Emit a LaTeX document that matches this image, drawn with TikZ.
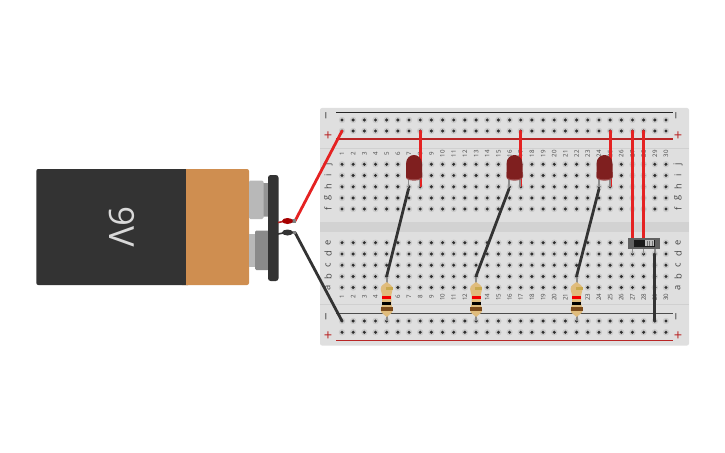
\documentclass[tikz,border=0pt]{standalone}
\usepackage{fontspec}
\setmainfont{Open Sans}
\definecolor{boardc}{HTML}{DFDFDF}
\definecolor{gutterc}{HTML}{D2D2D2}
\definecolor{seamc}{HTML}{D0D0D0}
\definecolor{halo}{HTML}{CBCBCB}
\definecolor{holec}{HTML}{303030}
\definecolor{batdark}{HTML}{333333}
\definecolor{copper}{HTML}{CF8E50}
\definecolor{wred}{HTML}{E52222}
\definecolor{wblack}{HTML}{333333}
\definecolor{railred}{HTML}{B92525}
\definecolor{labelc}{HTML}{454545}
\definecolor{ledc}{HTML}{7F1F1F}
\definecolor{ledrim}{HTML}{A05050}
\definecolor{legc}{HTML}{8C8C8C}
\definecolor{resbody}{HTML}{E0BC7C}
\definecolor{goldband}{HTML}{C9A94E}
\definecolor{brownband}{HTML}{7A4A1C}
\tikzset{
  x=0.75pt,y=-0.75pt,
  wire/.style={line width=2.1pt,line cap=round},
  redwire/.style={wire,draw=wred},
  blackwire/.style={wire,draw=wblack},
  leg/.style={line width=1.2pt,draw=legc},
  numlabel/.style={inner sep=0pt,rotate=90,text=labelc,font=\fontsize{4.6}{5}\selectfont},
  letlabel/.style={inner sep=0pt,rotate=90,text=labelc,font=\fontsize{7}{7}\selectfont},
  minuslabel/.style={inner sep=0pt,text=labelc,font=\fontsize{10}{10}\selectfont},
  pluslabel/.style={inner sep=0pt,text=railred,font=\fontsize{11}{11}\selectfont},
}
\newcommand{\holerow}[1]{%
  \foreach \c in {0,...,29}{%
    \fill[halo] ({342+\c*11.172},#1) circle[radius=3.2];
    \fill[holec] ({342+\c*11.172},#1) circle[radius=1.7];
  }}
\newcommand{\resistor}[1]{%
  \draw[line width=1.5pt,draw=legc] (#1,276.5) -- (#1,321);
  \fill[resbody] (#1,282) .. controls ({#1+2},284.5) and ({#1+6},284.5) .. ({#1+6},289)
    .. controls ({#1+6},292) and ({#1+4.6},292) .. ({#1+4.6},295) -- ({#1+4.6},304)
    .. controls ({#1+4.6},307) and ({#1+6},307) .. ({#1+6},310)
    .. controls ({#1+6},314) and ({#1+2},314) .. (#1,317)
    .. controls ({#1-2},314) and ({#1-6},314) .. ({#1-6},310)
    .. controls ({#1-6},307) and ({#1-4.6},307) .. ({#1-4.6},304) -- ({#1-4.6},295)
    .. controls ({#1-4.6},292) and ({#1-6},292) .. ({#1-6},289)
    .. controls ({#1-6},284.5) and ({#1-2},284.5) .. (#1,282) -- cycle;
  \fill[goldband] ({#1-1},287) rectangle ({#1+6},289.5);
  \fill[red!95!black] ({#1-4.6},295.5) rectangle ({#1+4.6},298.5);
  \fill[black] ({#1-4.6},301.5) rectangle ({#1+4.6},304.5);
  \fill[brownband] ({#1-6},307) rectangle ({#1+6},310.5);
}
\newcommand{\ledbody}[1]{% #1 = centre x
  \draw[leg] ({#1-5.5},178) -- ({#1-5.5},186.8);
  \draw[leg] ({#1+5.5},178) -- ({#1+5.5},186.8);
  \fill[ledrim] ({#1-8},172) -- ({#1-8},178) .. controls ({#1-6},181.5) and ({#1+6},181.5) .. ({#1+8},178) -- ({#1+8},172) -- cycle;
  \fill[ledc] ({#1-8},177) -- ({#1-8},164) .. controls ({#1-8},152) and ({#1+8},152) .. ({#1+8},164) -- ({#1+8},177)
     .. controls ({#1+6},180) and ({#1-6},180) .. ({#1-8},177) -- cycle;
}
\begin{document}
\begin{tikzpicture}
\useasboundingbox (0,0) rectangle (725,453);
% board
\fill[boardc,rounded corners=1.5pt] (320,108) rectangle (689,345.5);
\fill[gutterc] (320,222) rectangle (689,232);
\draw[seamc,line width=0.4pt] (320,148) -- (689,148) (320,304) -- (689,304);
% rails
\draw[black!85,line width=0.9pt] (336,112.5) -- (672.5,112.5);
\draw[railred,line width=0.9pt] (336,139) -- (672.5,139);
\draw[black!70,line width=0.9pt] (336,313.5) -- (672.5,313.5);
\draw[railred,line width=0.9pt] (336,340.5) -- (672.5,340.5);
% holes
\foreach \y in {120,131,164.3,175.5,186.8,198,209,242.7,254,265.2,276.5,287.5,321,332.3}{\holerow{\y}}
% labels
\foreach \n in {1,...,30}{
  \node[numlabel] (nt\n) at ({342+(\n-1)*11.172},154) {\n};
}
\foreach \n in {1,2,3,4,6,7,8,9,10,11,12,14,15,16,17,18,19,20,21,23,24,25,26,27,28,29,30}{
  \node[numlabel] (nb\n) at ({342+(\n-1)*11.172},297) {\n};
}
\foreach \l/\y in {j/164.3,i/175.5,h/186.8,g/198,f/209,e/242.7,d/254,c/265.2,b/276.5,a/287.5}{
  \node[letlabel] (ll\l) at (328,\y) {\l};
  \node[letlabel] (lr\l) at (678,\y) {\l};
}
\node[minuslabel,rotate=90] (m1) at (328,116) {−};
\node[minuslabel,rotate=90] (m2) at (678,116) {−};
\node[minuslabel,rotate=90] (m3) at (328,316.5) {−};
\node[minuslabel,rotate=90] (m4) at (678,316.5) {−};
\node[pluslabel] (p1) at (328,136) {+};
\node[pluslabel] (p2) at (678,136) {+};
\node[pluslabel] (p3) at (328,336) {+};
\node[pluslabel] (p4) at (678,336) {+};
% battery
\fill[copper,rounded corners=1.5pt] (180,169) rectangle (249,285);
\fill[batdark,rounded corners=1.5pt] (36.3,169) rectangle (190,285);
\fill[copper] (185.7,169) rectangle (195,285);
\node[rotate=-90,inner sep=0pt,text=black!15,font=\fontsize{26}{26}\selectfont] (volt) at (122,227) {9V};
\fill[black!42,rounded corners=0.5pt] (262,183) rectangle (269,216.5);
\fill[black!28,rounded corners=1pt] (249,180.5) rectangle (263.5,219);
\fill[black!28] (249,233.5) rectangle (256,267);
\fill[black!46,rounded corners=1pt] (255,230.5) rectangle (269,270);
\fill[batdark,rounded corners=2pt] (268,175) rectangle (278.5,281);
% battery leads
\coordinate (redlead) at (295,221);
\coordinate (blacklead) at (295,232.5);
\coordinate (railA) at (342,131);
\coordinate (railB) at (342,321);
% battery wires
\draw[redwire] (redlead) -- (railA);
\draw[blackwire] (blacklead) -- (railB);
\draw[railred,line width=1.2pt] (278,222.5) -- (286,221);
\draw[wblack,line width=1.2pt] (278,234) -- (286,232.5);
\fill[black!50] (290,219.3) rectangle (295.5,222.7);
\fill[black!50] (290,230.8) rectangle (295.5,234.2);
\fill[red!65!black] (287.5,221) ellipse[x radius=5.5,y radius=3];
\fill[wblack] (287.5,232.5) ellipse[x radius=5.5,y radius=3];
% resistors
\resistor{386.7}
\resistor{476.1}
\resistor{576.6}
% LEDs wires
\draw[redwire] (420.7,131) -- (420.7,186);
\draw[redwire] (520.7,131) -- (520.7,186);
\draw[redwire] (610.5,131) -- (610.5,186);
\ledbody{414}
\ledbody{514.5}
\ledbody{604.5}
\draw[blackwire] (408.5,189) -- (386.7,276);
\draw[blackwire] (509,189) -- (476.1,276);
\draw[blackwire] (599,189) -- (576.6,276);
% switch
\draw[redwire] (632.4,131) -- (632.4,240);
\draw[redwire] (643.6,131) -- (643.6,240);
\draw[line width=1.2pt,draw=legc] (632.4,247) -- (632.4,254);
\draw[line width=1.2pt,draw=legc] (643.6,247) -- (643.6,254);
\draw[line width=1.2pt,draw=legc] (654.8,247) -- (654.8,254);
\draw[blackwire] (654.8,254) -- (654.8,321);
\fill[black!62] (628.3,237.5) rectangle (659.5,248.5);
\fill[black!90] (633.5,239.5) rectangle (654.5,246.5);
\fill[black!25] (645,240) rectangle (654,246);
\foreach \x in {647,649.5,652}{\draw[black!55,line width=0.4pt] (\x,240.5) -- (\x,245.5);}
\end{tikzpicture}
\end{document}
